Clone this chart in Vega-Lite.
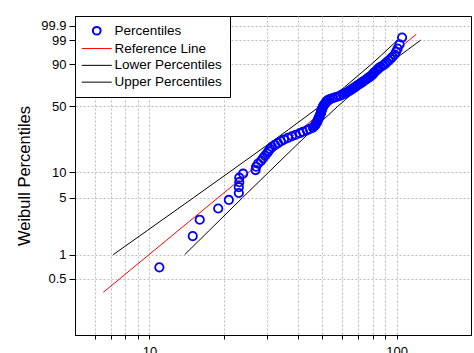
{
  "$schema": "https://vega.github.io/schema/vega-lite/v6.json",
  "width": 396,
  "height": 319,
  "autosize": {"type": "none"},
  "padding": {"left": 75, "top": 16, "right": 3, "bottom": 18},
  "background": "white",
  "config": {
    "font": "Liberation Sans",
    "view": {"stroke": "black", "strokeWidth": 1},
    "axis": {
      "domainColor": "black",
      "tickColor": "black",
      "labelColor": "black",
      "titleColor": "black",
      "labelFont": "Liberation Sans",
      "titleFont": "Liberation Sans",
      "gridColor": "#bdbdbd",
      "gridDash": [2, 2],
      "gridWidth": 1
    }
  },
  "datasets": {
    "pts": [
      {"series": "Percentiles", "x": 10.97, "w": -4.9623},
      {"series": "Percentiles", "x": 14.97, "w": -4.0700},
      {"series": "Percentiles", "x": 15.98, "w": -3.6023},
      {"series": "Percentiles", "x": 18.98, "w": -3.2821},
      {"series": "Percentiles", "x": 20.96, "w": -3.0377},
      {"series": "Percentiles", "x": 23.0, "w": -2.8397},
      {"series": "Percentiles", "x": 23.0, "w": -2.6727},
      {"series": "Percentiles", "x": 23.1, "w": -2.5283},
      {"series": "Percentiles", "x": 23.1, "w": -2.4009},
      {"series": "Percentiles", "x": 23.94, "w": -2.2866},
      {"series": "Percentiles", "x": 26.88, "w": -2.1831},
      {"series": "Percentiles", "x": 27.0, "w": -2.0883},
      {"series": "Percentiles", "x": 27.51, "w": -2.0006},
      {"series": "Percentiles", "x": 28.29, "w": -1.9193},
      {"series": "Percentiles", "x": 28.82, "w": -1.8433},
      {"series": "Percentiles", "x": 29.36, "w": -1.7717},
      {"series": "Percentiles", "x": 29.91, "w": -1.7041},
      {"series": "Percentiles", "x": 30.33, "w": -1.6402},
      {"series": "Percentiles", "x": 30.75, "w": -1.5793},
      {"series": "Percentiles", "x": 31.33, "w": -1.5213},
      {"series": "Percentiles", "x": 32.21, "w": -1.4658},
      {"series": "Percentiles", "x": 33.12, "w": -1.4125},
      {"series": "Percentiles", "x": 34.06, "w": -1.3613},
      {"series": "Percentiles", "x": 35.02, "w": -1.3120},
      {"series": "Percentiles", "x": 36.35, "w": -1.2645},
      {"series": "Percentiles", "x": 37.72, "w": -1.2184},
      {"series": "Percentiles", "x": 39.15, "w": -1.1738},
      {"series": "Percentiles", "x": 40.63, "w": -1.1306},
      {"series": "Percentiles", "x": 41.78, "w": -1.0886},
      {"series": "Percentiles", "x": 43.36, "w": -1.0477},
      {"series": "Percentiles", "x": 44.58, "w": -1.0079},
      {"series": "Percentiles", "x": 45.84, "w": -0.9691},
      {"series": "Percentiles", "x": 46.49, "w": -0.9312},
      {"series": "Percentiles", "x": 46.92, "w": -0.8941},
      {"series": "Percentiles", "x": 47.14, "w": -0.8578},
      {"series": "Percentiles", "x": 47.58, "w": -0.8223},
      {"series": "Percentiles", "x": 47.80, "w": -0.7875},
      {"series": "Percentiles", "x": 48.02, "w": -0.7533},
      {"series": "Percentiles", "x": 48.25, "w": -0.7197},
      {"series": "Percentiles", "x": 48.47, "w": -0.6867},
      {"series": "Percentiles", "x": 48.70, "w": -0.6542},
      {"series": "Percentiles", "x": 48.92, "w": -0.6222},
      {"series": "Percentiles", "x": 49.15, "w": -0.5907},
      {"series": "Percentiles", "x": 49.38, "w": -0.5597},
      {"series": "Percentiles", "x": 49.40, "w": -0.5290},
      {"series": "Percentiles", "x": 49.61, "w": -0.4987},
      {"series": "Percentiles", "x": 49.84, "w": -0.4688},
      {"series": "Percentiles", "x": 49.86, "w": -0.4392},
      {"series": "Percentiles", "x": 50.07, "w": -0.4099},
      {"series": "Percentiles", "x": 50.30, "w": -0.3809},
      {"series": "Percentiles", "x": 50.54, "w": -0.3521},
      {"series": "Percentiles", "x": 50.77, "w": -0.3236},
      {"series": "Percentiles", "x": 51.25, "w": -0.2953},
      {"series": "Percentiles", "x": 51.49, "w": -0.2673},
      {"series": "Percentiles", "x": 51.73, "w": -0.2394},
      {"series": "Percentiles", "x": 52.21, "w": -0.2117},
      {"series": "Percentiles", "x": 52.69, "w": -0.1841},
      {"series": "Percentiles", "x": 53.68, "w": -0.1567},
      {"series": "Percentiles", "x": 55.20, "w": -0.1293},
      {"series": "Percentiles", "x": 56.76, "w": -0.1021},
      {"series": "Percentiles", "x": 58.36, "w": -0.0749},
      {"series": "Percentiles", "x": 59.45, "w": -0.0478},
      {"series": "Percentiles", "x": 60.57, "w": -0.0207},
      {"series": "Percentiles", "x": 61.70, "w": 0.0064},
      {"series": "Percentiles", "x": 62.86, "w": 0.0335},
      {"series": "Percentiles", "x": 63.74, "w": 0.0606},
      {"series": "Percentiles", "x": 64.64, "w": 0.0877},
      {"series": "Percentiles", "x": 65.54, "w": 0.1149},
      {"series": "Percentiles", "x": 66.46, "w": 0.1422},
      {"series": "Percentiles", "x": 67.39, "w": 0.1697},
      {"series": "Percentiles", "x": 68.34, "w": 0.1972},
      {"series": "Percentiles", "x": 68.97, "w": 0.2250},
      {"series": "Percentiles", "x": 69.94, "w": 0.2529},
      {"series": "Percentiles", "x": 70.92, "w": 0.2811},
      {"series": "Percentiles", "x": 71.91, "w": 0.3095},
      {"series": "Percentiles", "x": 72.92, "w": 0.3382},
      {"series": "Percentiles", "x": 73.94, "w": 0.3672},
      {"series": "Percentiles", "x": 74.99, "w": 0.3966},
      {"series": "Percentiles", "x": 76.04, "w": 0.4264},
      {"series": "Percentiles", "x": 77.11, "w": 0.4568},
      {"series": "Percentiles", "x": 78.19, "w": 0.4876},
      {"series": "Percentiles", "x": 79.28, "w": 0.5191},
      {"series": "Percentiles", "x": 80.02, "w": 0.5513},
      {"series": "Percentiles", "x": 80.77, "w": 0.5843},
      {"series": "Percentiles", "x": 81.52, "w": 0.6181},
      {"series": "Percentiles", "x": 82.67, "w": 0.6530},
      {"series": "Percentiles", "x": 83.83, "w": 0.6890},
      {"series": "Percentiles", "x": 84.61, "w": 0.7264},
      {"series": "Percentiles", "x": 86.20, "w": 0.7652},
      {"series": "Percentiles", "x": 88.22, "w": 0.8060},
      {"series": "Percentiles", "x": 89.87, "w": 0.8489},
      {"series": "Percentiles", "x": 91.13, "w": 0.8944},
      {"series": "Percentiles", "x": 92.84, "w": 0.9431},
      {"series": "Percentiles", "x": 94.58, "w": 0.9959},
      {"series": "Percentiles", "x": 96.35, "w": 1.0539},
      {"series": "Percentiles", "x": 98.16, "w": 1.1189},
      {"series": "Percentiles", "x": 99.54, "w": 1.1942},
      {"series": "Percentiles", "x": 100.93, "w": 1.2854},
      {"series": "Percentiles", "x": 102.83, "w": 1.4058},
      {"series": "Percentiles", "x": 105.24, "w": 1.6026}
    ],
    "lines": [
      {"series": "Reference Line", "x": 6.51, "w": -5.676},
      {"series": "Reference Line", "x": 120.1, "w": 1.6956},
      {"series": "Lower Percentiles", "x": 7.14, "w": -4.6002},
      {"series": "Lower Percentiles", "x": 9.845, "w": -3.9020},
      {"series": "Lower Percentiles", "x": 15.10, "w": -2.9702},
      {"series": "Lower Percentiles", "x": 20.99, "w": -2.2504},
      {"series": "Lower Percentiles", "x": 29.53, "w": -1.5000},
      {"series": "Lower Percentiles", "x": 36.48, "w": -1.0309},
      {"series": "Lower Percentiles", "x": 48.86, "w": -0.3665},
      {"series": "Lower Percentiles", "x": 61.54, "w": 0.1856},
      {"series": "Lower Percentiles", "x": 78.89, "w": 0.8340},
      {"series": "Lower Percentiles", "x": 86.74, "w": 1.0972},
      {"series": "Lower Percentiles", "x": 100.8, "w": 1.5272},
      {"series": "Upper Percentiles", "x": 13.89, "w": -4.6002},
      {"series": "Upper Percentiles", "x": 17.50, "w": -3.9020},
      {"series": "Upper Percentiles", "x": 23.83, "w": -2.9702},
      {"series": "Upper Percentiles", "x": 30.30, "w": -2.2504},
      {"series": "Upper Percentiles", "x": 38.98, "w": -1.5000},
      {"series": "Upper Percentiles", "x": 45.74, "w": -1.0309},
      {"series": "Upper Percentiles", "x": 57.73, "w": -0.3665},
      {"series": "Upper Percentiles", "x": 70.94, "w": 0.1856},
      {"series": "Upper Percentiles", "x": 92.42, "w": 0.8340},
      {"series": "Upper Percentiles", "x": 103.50, "w": 1.0972},
      {"series": "Upper Percentiles", "x": 125.1, "w": 1.5272}
    ]
  },
  "encoding": {
    "x": {
      "field": "x",
      "type": "quantitative",
      "scale": {"type": "log", "domain": [5, 200], "nice": false},
      "axis": {
        "title": null,
        "values": [6, 7, 8, 9, 10, 20, 30, 40, 50, 60, 70, 80, 90, 100],
        "labelExpr": "datum.value == 10 ? '10' : datum.value == 100 ? '100' : ''",
        "labelFontSize": 13,
        "labelPadding": 6,
        "tickSize": 4,
        "grid": true,
        "labelFlush": false,
        "labelOverlap": false
      }
    },
    "y": {
      "field": "w",
      "type": "quantitative",
      "scale": {"domain": [-6.896, 2.218], "nice": false, "zero": false},
      "axis": {
        "title": "Weibull Percentiles",
        "titleFontSize": 16.5,
        "titleFontWeight": "normal",
        "titleAngle": -90,
        "titleX": -51,
        "titleY": 159.5,
        "titleAlign": "center",
        "titleBaseline": "middle",
        "values": [-5.2958, -4.6002, -2.9702, -2.2504, -0.3665, 0.834, 1.5272, 1.9327],
        "labelExpr": "format(100 * (1 - exp(-exp(datum.value))), '.3~r')",
        "labelFontSize": 13,
        "labelPadding": 3,
        "tickSize": 6,
        "grid": true,
        "labelOverlap": false
      }
    },
    "color": {
      "field": "series",
      "type": "nominal",
      "scale": {
        "domain": ["Percentiles", "Reference Line", "Lower Percentiles", "Upper Percentiles"],
        "range": ["#0000ff", "#ff0000", "#000000", "#000000"]
      },
      "legend": {
        "title": null,
        "orient": "top-left",
        "offset": 0,
        "padding": 8,
        "strokeColor": "black",
        "fillColor": "white",
        "labelFont": "Liberation Sans",
        "labelFontSize": 13.5,
        "labelColor": "black",
        "labelOffset": 11,
        "symbolOffset": 7,
        "rowPadding": 1.8,
        "symbolType": "stroke",
        "symbolSize": 60,
        "symbolStrokeWidth": 1,
        "encode": {
          "symbols": {
            "update": {
              "shape": {"signal": "datum.value === 'Percentiles' ? 'circle' : 'stroke'"},
              "size": {"signal": "datum.value === 'Percentiles' ? 60 : 900"},
              "strokeWidth": {"signal": "datum.value === 'Percentiles' ? 2 : 1"},
              "fill": {"value": "transparent"},
              "stroke": {"signal": "datum.value === 'Percentiles' ? '#0000ff' : datum.value === 'Reference Line' ? '#ff0000' : '#000000'"}
            }
          }
        }
      }
    }
  },
  "layer": [
    {
      "data": {"name": "lines"},
      "mark": {"type": "line", "strokeWidth": 1, "clip": true}
    },
    {
      "data": {"name": "pts"},
      "mark": {"type": "point", "filled": false, "size": 70, "strokeWidth": 1.8, "opacity": 1}
    }
  ]
}
